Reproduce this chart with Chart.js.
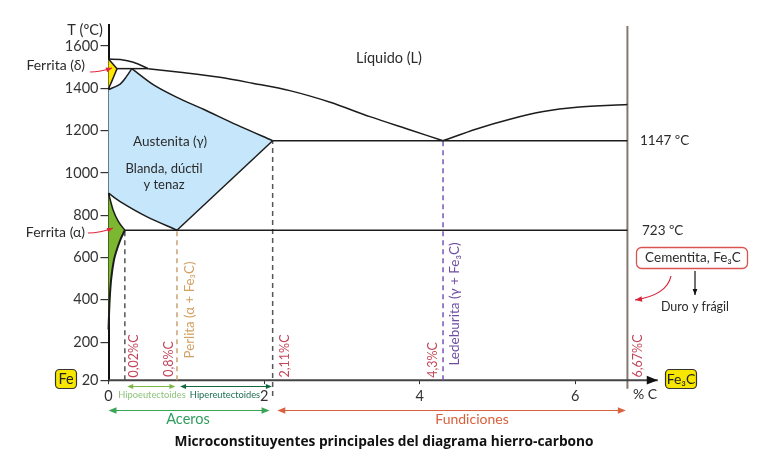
<!DOCTYPE html>
<html>
<head>
<meta charset="utf-8">
<title>Diagrama hierro-carbono</title>
<script src="https://cdn.jsdelivr.net/npm/chart.js@4"></script>
<style>
  html, body { margin: 0; padding: 0; background: #fff; }
  #wrap { width: 768px; height: 470px; }
</style>
</head>
<body>
<div id="wrap"><canvas id="mycanvas"></canvas></div>
<script>
// axis ticks
var tempTicks = [20, 200, 400, 600, 800, 1000, 1200, 1400, 1600];
var carbonTicks = [0, 2, 4, 6];

// phase boundaries, %C and T
var liquidusLeftC = [0.51, 0.92, 1.43, 1.85, 2.33, 2.85, 3.36, 3.88, 4.30];
var liquidusLeftT = [1493, 1476, 1452, 1424, 1389, 1334, 1266, 1203, 1152];
var liquidusRightC = [4.30, 4.73, 5.16, 5.59, 6.02, 6.67];
var liquidusRightT = [1152, 1208, 1254, 1290, 1310, 1323];
var deltaTopC = [0, 0.15, 0.32, 0.51];
var deltaTopT = [1538, 1536, 1523, 1493];
var peritecticC = [0.11, 0.51];
var peritecticT = [1493, 1493];
var deltaRightC = [0, 0.11];
var deltaRightT = [1538, 1493];
var deltaLowC = [0.11, 0.05, 0];
var deltaLowT = [1493, 1440, 1398];
var gammaTopC = [0, 0.15, 0.23, 0.30];
var gammaTopT = [1394, 1420, 1455, 1493];
var solidusC = [0.30, 0.58, 0.88, 1.22, 1.65, 2.11];
var solidusT = [1493, 1416, 1357, 1301, 1227, 1152];
var eutecticC = [2.11, 6.67];
var eutecticT = [1152, 1152];
var austeniteEdgeC = [2.11, 0.88];
var austeniteEdgeT = [1152, 729];
var a3C = [0.88, 0.49, 0.15, 0];
var a3T = [729, 793, 864, 904];
var eutectoidC = [0.21, 6.67];
var eutectoidT = [729, 729];
var alphaUpC = [0, 0.06, 0.13, 0.21];
var alphaUpT = [904, 824, 769, 729];
var alphaLowC = [0.21, 0.16, 0.11, 0.07, 0.035, 0.015, 0];
var alphaLowT = [729, 690, 640, 588, 500, 400, 260];

// composition verticals and the %C axis line
var cementiteC = [6.67, 6.67];
var cementiteT = [-20, 1695];
var drop002C = [0.21, 0.21];
var drop002T = [20, 729];
var drop08C = [0.88, 0.88];
var drop08T = [20, 729];
var drop211C = [2.11, 2.11];
var drop211T = [-55, 1152];
var drop43C = [4.30, 4.30];
var drop43T = [20, 1152];
var baseC = [0, 7.06];
var baseT = [20, 20];

function pts(xs, ys) {
  return xs.map(function (x, i) { return { x: x, y: ys[i] }; });
}

function curve(xs, ys, tension) {
  return {
    data: pts(xs, ys),
    showLine: true,
    pointRadius: 0,
    borderColor: "#1c1c1c",
    borderWidth: 1.5,
    tension: tension || 0,
    clip: false
  };
}

function dashed(xs, ys, color) {
  var d = curve(xs, ys);
  d.borderColor = color;
  d.borderDash = [5, 4];
  return d;
}

var cementite = curve(cementiteC, cementiteT);
cementite.borderColor = "#85796f";
cementite.borderWidth = 2;

var alphaLow = curve(alphaLowC, alphaLowT, 0.3);
alphaLow.borderWidth = 2;

var base = curve(baseC, baseT);
base.borderColor = "#444";
base.borderWidth = 2;

var datasets = [
  curve(liquidusLeftC, liquidusLeftT, 0.3),
  curve(liquidusRightC, liquidusRightT, 0.3),
  curve(deltaTopC, deltaTopT, 0.3),
  curve(peritecticC, peritecticT),
  curve(deltaRightC, deltaRightT),
  curve(deltaLowC, deltaLowT, 0.3),
  curve(gammaTopC, gammaTopT, 0.3),
  curve(solidusC, solidusT, 0.3),
  curve(eutecticC, eutecticT),
  curve(austeniteEdgeC, austeniteEdgeT),
  curve(a3C, a3T, 0.3),
  curve(eutectoidC, eutectoidT),
  curve(alphaUpC, alphaUpT, 0.3),
  alphaLow,
  dashed(drop002C, drop002T, "#55565a"),
  dashed(drop08C, drop08T, "#c9a274"),
  dashed(drop211C, drop211T, "#55565a"),
  dashed(drop43C, drop43T, "#7a55b5"),
  base,
  cementite
];

// the coloured phase fields, filled from the same boundaries
var fields = [
  { color: "#c6e7fb", parts: [[gammaTopC, gammaTopT], [solidusC, solidusT], [austeniteEdgeC, austeniteEdgeT], [a3C, a3T]] },
  { color: "#ffe800", parts: [[deltaRightC, deltaRightT], [deltaLowC, deltaLowT]] },
  { color: "#7cb82f", parts: [[alphaUpC, alphaUpT], [alphaLowC, alphaLowT]] }
];

var fieldsPlugin = {
  id: "fields",
  beforeDatasetsDraw: function (chart) {
    var ctx = chart.ctx, sx = chart.scales.x, sy = chart.scales.y;
    fields.forEach(function (f) {
      ctx.beginPath();
      f.parts.forEach(function (p) {
        p[0].forEach(function (c, i) {
          ctx.lineTo(sx.getPixelForValue(c), sy.getPixelForValue(p[1][i]));
        });
      });
      ctx.closePath();
      ctx.fillStyle = f.color;
      ctx.fill();
    });
  }
};

function text(ctx, str, x, y, size, color, align, rot) {
  ctx.save();
  ctx.translate(x, y);
  if (rot) ctx.rotate(rot);
  ctx.font = size + "px Lato";
  ctx.fillStyle = color;
  ctx.textAlign = align || "center";
  ctx.textBaseline = "middle";
  ctx.fillText(str, 0, 0);
  ctx.restore();
}

function head(ctx, x, y, angle, len, color) {
  ctx.save();
  ctx.translate(x, y);
  ctx.rotate(angle);
  ctx.beginPath();
  ctx.moveTo(0, 0);
  ctx.lineTo(-len, -len * 0.4);
  ctx.lineTo(-len, len * 0.4);
  ctx.closePath();
  ctx.fillStyle = color;
  ctx.fill();
  ctx.restore();
}

// double headed range arrow under the axis
function span(ctx, x1, x2, y, color, len) {
  ctx.strokeStyle = color;
  ctx.lineWidth = 1;
  ctx.beginPath();
  ctx.moveTo(x1 + 2, y);
  ctx.lineTo(x2 - 2, y);
  ctx.stroke();
  head(ctx, x1, y, Math.PI, len, color);
  head(ctx, x2, y, 0, len, color);
}

function bend(ctx, x1, y1, cx, cy, x2, y2, color, len) {
  ctx.strokeStyle = color;
  ctx.lineWidth = 1.2;
  ctx.beginPath();
  ctx.moveTo(x1, y1);
  ctx.quadraticCurveTo(cx, cy, x2, y2);
  ctx.stroke();
  head(ctx, x2, y2, Math.atan2(y2 - cy, x2 - cx), len, color);
}

function box(ctx, x, y, w, h, r, fill, stroke, lw) {
  ctx.beginPath();
  ctx.roundRect(x, y, w, h, r);
  ctx.fillStyle = fill;
  ctx.fill();
  ctx.strokeStyle = stroke;
  ctx.lineWidth = lw;
  ctx.stroke();
}

var notesPlugin = {
  id: "notes",
  afterDraw: function (chart) {
    var ctx = chart.ctx, sx = chart.scales.x, sy = chart.scales.y;
    var up = -Math.PI / 2;
    var ink = "#2b2b2b", pct = "#c2465a";

    text(ctx, "T (ºC)", 85, 30, 14.5, ink);
    text(ctx, "Líquido (L)", 389, 58, 14.5, ink);
    text(ctx, "Austenita (γ)", 170, 142, 13.5, ink);
    text(ctx, "Blanda, dúctil", 164, 169, 13, ink);
    text(ctx, "y tenaz", 164, 185, 13, ink);
    text(ctx, "Ferrita (δ)", 85, 65, 14, ink, "right");
    text(ctx, "Ferrita (α)", 85, 232, 14, ink, "right");
    text(ctx, "1147 ºC", 640, 141, 13.5, ink, "left");
    text(ctx, "723 ºC", 642, 231, 13.5, ink, "left");
    text(ctx, "% C", 645, 394, 14, ink);

    bend(ctx, 90, 72, 100, 72, 112, 68, "#e0263c", 6);
    bend(ctx, 88, 233, 100, 233, 113, 228, "#e0263c", 6);

    text(ctx, "0,02%C", 134, 356, 12.5, pct, "center", up);
    text(ctx, "0,8%C", 169, 359, 12.5, pct, "center", up);
    text(ctx, "2,11%C", 285, 356, 12.5, pct, "center", up);
    text(ctx, "4,3%C", 433, 360, 12.5, pct, "center", up);
    text(ctx, "6,67%C", 638, 356, 12.5, pct, "center", up);
    text(ctx, "Perlita (α + Fe₃C)", 190, 310, 13.3, "#d2a063", "center", up);
    text(ctx, "Ledeburita (γ + Fe₃C)", 455, 304, 13.5, "#6f4fa3", "center", up);

    // axis arrow head
    head(ctx, sx.getPixelForValue(7.06), sy.getPixelForValue(20), 0, 11, "#111");

    // ranges below the axis
    span(ctx, sx.getPixelForValue(0.24), sx.getPixelForValue(0.86), 386.5, "#7db648", 6);
    span(ctx, sx.getPixelForValue(0.92), sx.getPixelForValue(2.1), 386.5, "#12683f", 6);
    span(ctx, sx.getPixelForValue(0), sx.getPixelForValue(2.07), 410.5, "#3aa655", 8);
    span(ctx, sx.getPixelForValue(2.17), sx.getPixelForValue(6.65), 410.5, "#db6240", 8);
    text(ctx, "Hipoeutectoides", 152, 395, 9.3, "#8cc27a");
    text(ctx, "Hipereutectoides", 225, 395, 9.3, "#1f6e52");
    text(ctx, "Aceros", 188, 419, 14.5, "#2f9e5b");
    text(ctx, "Fundiciones", 472, 419, 14, "#d9603b");

    // end labels
    box(ctx, 55.5, 369.5, 21, 19, 4, "#f7e600", "#333", 1.2);
    text(ctx, "Fe", 66, 379, 14.5, "#222");
    box(ctx, 665.5, 369.5, 31, 19, 4, "#f7e600", "#333", 1.2);
    text(ctx, "Fe₃C", 681, 379, 14, "#222");

    // cementite note
    box(ctx, 636.5, 247.5, 111, 21, 5, "#fff", "#d9534f", 1.3);
    text(ctx, "Cementita, Fe₃C", 693, 258, 13.5, ink);
    bend(ctx, 695, 271, 695, 283, 695, 295, "#111", 6);
    text(ctx, "Duro y frágil", 695, 307, 12.5, ink);
    bend(ctx, 671, 276, 667, 295, 635, 300, "#d8233a", 7);
  }
};

var ctx = document.getElementById("mycanvas");

var graph = new Chart(ctx, {
  type: "scatter",
  data: { datasets: datasets },
  plugins: [fieldsPlugin, notesPlugin],
  options: {
    responsive: true,
    maintainAspectRatio: false,
    animation: false,
    events: [],
    layout: { padding: { left: 0, top: 24.85, right: 0, bottom: 20 } },
    plugins: {
      legend: { display: false },
      tooltip: { enabled: false },
      title: {
        display: true,
        position: "bottom",
        text: "Microconstituyentes principales del diagrama hierro-carbono",
        color: "#111",
        font: { family: '"Open Sans"', size: 13.7, weight: "bold", lineHeight: 1.14 },
        padding: 0
      }
    },
    scales: {
      x: {
        type: "linear",
        min: 0,
        max: 8.477,
        afterBuildTicks: function (axis) {
          axis.ticks = carbonTicks.map(function (v) { return { value: v }; });
        },
        afterFit: function (axis) { axis.height = 54.2; },
        border: { display: false },
        grid: { drawOnChartArea: false, tickLength: 4, color: "#333", lineWidth: 1 },
        ticks: {
          autoSkip: false,
          maxRotation: 0,
          padding: 3,
          color: "#333",
          font: { family: "Lato", size: 14.5 }
        }
      },
      y: {
        type: "linear",
        min: 20,
        max: 1700,
        afterBuildTicks: function (axis) {
          axis.ticks = tempTicks.map(function (v) { return { value: v }; });
        },
        afterFit: function (axis) { axis.width = 108.5; },
        border: { color: "#111", width: 2 },
        grid: { drawOnChartArea: false, tickLength: 8, color: "#333", lineWidth: 1.2 },
        ticks: {
          autoSkip: false,
          padding: 2,
          color: "#333",
          font: { family: "Lato", size: 14.5 },
          callback: function (v) { return String(v); }
        }
      }
    }
  }
});
</script>
</body>
</html>
